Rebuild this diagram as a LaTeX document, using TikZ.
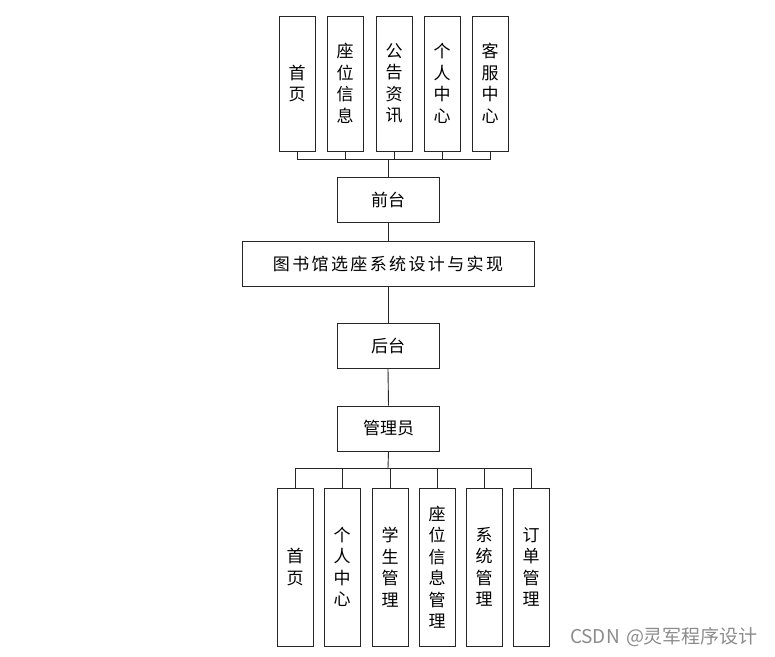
\documentclass[tikz,border=0pt]{standalone}
\usepackage{fontspec}
\newfontfamily\cjk{Noto Sans CJK SC}
\newfontfamily\cjkwide[LetterSpace=14]{Noto Sans CJK SC}
\begin{document}
\begin{tikzpicture}[x=1pt,y=-1pt,
  box/.style={draw=black!85,line width=0.9pt,inner sep=0pt,align=center,
    font=\cjk\fontsize{17}{21.5}\selectfont},
  vbox/.style={box,minimum width=36pt,minimum height=135pt},
  vbox2/.style={box,minimum width=36pt,minimum height=158pt},
  hbox/.style={box,minimum width=102pt,minimum height=45pt},
  conn/.style={draw=black!85,line width=0.9pt}]
\useasboundingbox (0,0) rectangle (775,656);
% top boxes
\node[vbox] (t1) at (297,83.5) {首\\页};
\node[vbox] (t2) at (345,83.5) {座\\位\\信\\息};
\node[vbox] (t3) at (394,83.5) {公\\告\\资\\讯};
\node[vbox] (t4) at (442,83.5) {个\\人\\中\\心};
\node[vbox] (t5) at (490,83.5) {客\\服\\中\\心};
\coordinate (bus1) at (388,159);
\node[hbox] (qt) at (388,199.5) {前台};
\node[box,minimum width=292pt,minimum height=45pt,font=\cjkwide\fontsize{17}{21.5}\selectfont] (main) at (388,263.5) {图书馆选座系统设计与实现};
\node[hbox] (ht) at (388,346) {后台};
\node[hbox] (gly) at (388.5,428.5) {管理员};
\coordinate (bus2) at (388,468);
% bottom boxes
\node[vbox2] (b1) at (295,567) {首\\页};
\node[vbox2] (b2) at (342,567) {个\\人\\中\\心};
\node[vbox2] (b3) at (390,567) {学\\生\\管\\理};
\node[vbox2] (b4) at (437,567) {座\\位\\信\\息\\管\\理};
\node[vbox2] (b5) at (484,567) {系\\统\\管\\理};
\node[vbox2] (b6) at (531,567) {订\\单\\管\\理};
% connectors
\foreach \n in {t1,t2,t3,t4,t5} \draw[conn] (\n.south) |- (bus1);
\draw[conn] (bus1) -- (qt.north);
\draw[conn] (qt.south) -- (main.north);
\draw[conn] (main.south) -- (ht.north);
\draw[conn] (ht.south) -- (gly.north);
\draw[conn] (gly.south) -- (bus2);
\foreach \n in {b1,b2,b3,b4,b5,b6} \draw[conn] (bus2) -| (\n.north);
% watermark
\node[font=\cjk\fontsize{19}{19}\selectfont,text=black!45,inner sep=0pt] (wm) at (664,637) {CSDN\hspace{2pt} @灵军程序设计};
\end{tikzpicture}
\end{document}
